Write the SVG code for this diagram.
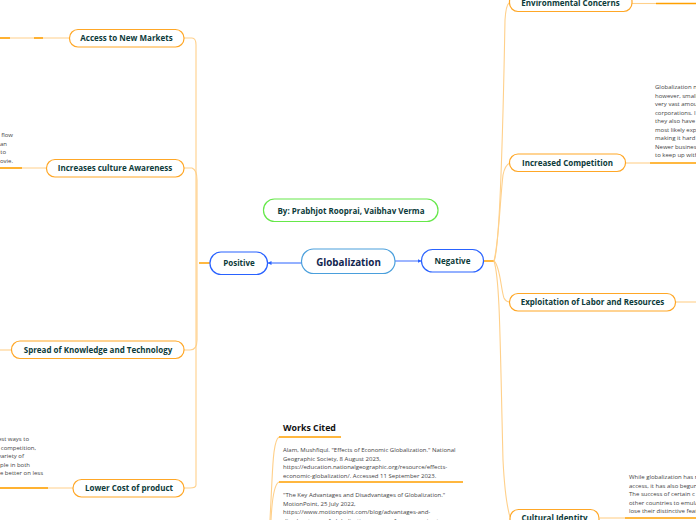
<svg xmlns="http://www.w3.org/2000/svg" width="696" height="520" viewBox="0 0 696 520">
<style>
text{font-family:"Open Sans","Noto Sans","Liberation Sans",sans-serif}
.n{fill:#fff;stroke:#ffa726;stroke-width:1.2}
.b{fill:#fff;stroke:#2962ff;stroke-width:1.2}
.l{font-size:8px;font-weight:700;fill:#0d3b3a;text-anchor:middle}
.t{font-size:6px;fill:#444}
.e{text-anchor:end}
.c{fill:none;stroke:#ffd08a;stroke-width:1.1}
.u{fill:none;stroke:#ffa000;stroke-width:1.5}
</style>
<defs>
<marker id="a" markerWidth="4" markerHeight="4" refX="3.500" refY="2" orient="auto" markerUnits="userSpaceOnUse"><path d="M0 0L4 2L0 4Z" fill="#2962ff"/></marker>
</defs>
<g id="connectors">
<path class="c" d="M184 38H192Q196 38 196 45V485Q196 488 190 488H184"/>
<path class="c" d="M184 168H192Q197 170 197 180V340Q197 350 190 350H184"/>
<path class="u" d="M199 263H210"/>
<path class="c" d="M0 38H69"/>
<path class="u" d="M0 38H10M34 38H43"/>
<path class="c" d="M0 168H46"/>
<path class="u" d="M0 168H22"/>
<path class="c" d="M0 350H11"/>
<path class="c" d="M0 488H73"/>
<path class="u" d="M0 488H48"/>
<path d="M301 263H268" fill="none" stroke="#2962ff" stroke-width="1" marker-end="url(#a)"/>
<path d="M395 261H421" fill="none" stroke="#7c9dff" stroke-width="1.500" marker-end="url(#a)"/>
<path class="u" d="M484 261H494"/>
<path class="c" d="M494 261C500 250 503 130 505 20Q506 5 509 3"/>
<path class="c" d="M494 261C499 240 500 200 503 175Q505 165 510 163"/>
<path class="c" d="M494 261C500 265 501 290 504 298Q506 302 510 302"/>
<path class="c" d="M494 261C500 280 500 340 503 460Q505 500 510 517"/>
<path class="c" d="M632 3.500H656"/>
<path class="u" d="M656 3.500H696"/>
<path class="c" d="M626 163H650"/>
<path class="u" d="M650 163H696"/>
<path class="c" d="M676 302H696"/>
<path class="c" d="M600 518H625"/>
<path class="u" d="M625 518H696"/>
<path class="c" d="M279 437C274 440 273 460 272 480Q271 500 270 520"/>
<path class="c" d="M279 482C274 484 272 500 271 520"/>
<path class="u" d="M279 437H341M279 482H463"/>
</g>
<g id="center"><rect x="301.500" y="249" width="93.500" height="24.500" rx="12" fill="#fff" stroke="#4a9fdc" stroke-width="1.200"/><text x="348.500" y="265.500" font-size="9.800" font-weight="700" fill="#12264f" text-anchor="middle">Globalization</text></g>
<g id="positive"><rect class="b" x="210" y="252" width="57.500" height="22.500" rx="11"/><text class="l" x="239" y="266">Positive</text></g>
<g id="negative"><rect class="b" x="421.500" y="249.500" width="62" height="22.500" rx="11"/><text class="l" x="452.500" y="264">Negative</text></g>
<g id="authors"><rect x="263.500" y="199" width="174.500" height="22.500" rx="11" fill="#fff" stroke="#66e84a" stroke-width="1.200"/><text class="l" x="351" y="213.500">By: Prabhjot Rooprai, Vaibhav Verma</text></g>
<g id="access"><rect class="n" x="69.500" y="29.500" width="114.500" height="17.500" rx="8.500"/><text class="l" x="126.500" y="41">Access to New Markets</text></g>
<g id="culture"><rect class="n" x="46.500" y="159.500" width="137.500" height="17.500" rx="8.500"/><text class="l" x="115" y="171">Increases culture Awareness</text></g>
<g id="knowledge"><rect class="n" x="11.500" y="341" width="172.500" height="17.500" rx="8.500"/><text class="l" x="98" y="353">Spread of Knowledge and Technology</text></g>
<g id="cost"><rect class="n" x="73" y="479.500" width="111" height="17.500" rx="8.500"/><text class="l" x="129" y="491">Lower Cost of product</text></g>
<g id="environment"><rect class="n" x="509.500" y="-7" width="122.500" height="18.500" rx="8.500"/><text class="l" x="570.500" y="6">Environmental Concerns</text></g>
<g id="competition"><rect class="n" x="509.500" y="154" width="116" height="17.500" rx="8.500"/><text class="l" x="567.500" y="166">Increased Competition</text></g>
<g id="exploitation"><rect class="n" x="509.500" y="293.500" width="166" height="17.500" rx="8.500"/><text class="l" x="592.500" y="305">Exploitation of Labor and Resources</text></g>
<g id="identity"><rect class="n" x="510" y="509.500" width="89" height="22" rx="8.500"/><text class="l" x="554.500" y="520.500">Cultural Identity</text></g>
<g id="culture-text">
<text class="t e" x="13" y="137">flow</text>
<text class="t e" x="7" y="146">an</text>
<text class="t e" x="6" y="154">to</text>
<text class="t e" x="13" y="163">ovie.</text>
</g>
<g id="cost-text">
<text class="t e" x="29" y="441">est ways to</text>
<text class="t e" x="36" y="449.500">competition,</text>
<text class="t e" x="24" y="458">variety of</text>
<text class="t e" x="30" y="466.500">ple in both</text>
<text class="t e" x="43" y="475">e better on less</text>
</g>
<g id="works-cited">
<text x="283" y="431" font-size="8.800" font-weight="700" fill="#111">Works Cited</text>
<text class="t" x="283" y="452">Alam, Mushfiqul. "Effects of Economic Globalization." National</text>
<text class="t" x="283" y="460.500">Geographic Society, 8 August 2023,</text>
<text class="t" x="283" y="469">https://education.nationalgeographic.org/resource/effects-</text>
<text class="t" x="283" y="477.500">economic-globalization/. Accessed 11 September 2023.</text>
<text class="t" x="283" y="497">"The Key Advantages and Disadvantages of Globalization."</text>
<text class="t" x="283" y="505.500">MotionPoint, 25 July 2022,</text>
<text class="t" x="283" y="514">https://www.motionpoint.com/blog/advantages-and-</text>
<text class="t" x="283" y="522.500">disadvantages-of-globalization-reasons-for-companies-t</text>
</g>
<g id="competition-text">
<text class="t" x="655" y="89">Globalization n</text>
<text class="t" x="655" y="98">however, small</text>
<text class="t" x="655" y="106">very vast amou</text>
<text class="t" x="655" y="115">corporations. I</text>
<text class="t" x="655" y="123">they also have</text>
<text class="t" x="655" y="132">most likely exp</text>
<text class="t" x="655" y="140">making it hard</text>
<text class="t" x="655" y="149">Newer busines</text>
<text class="t" x="655" y="157">to keep up with</text>
</g>
<g id="identity-text">
<text class="t" x="629" y="479">While globalization has r</text>
<text class="t" x="629" y="488">access, it has also begun</text>
<text class="t" x="629" y="496">The success of certain c</text>
<text class="t" x="629" y="505">other countries to emula</text>
<text class="t" x="629" y="513">lose their distinctive feat</text>
</g>
</svg>
